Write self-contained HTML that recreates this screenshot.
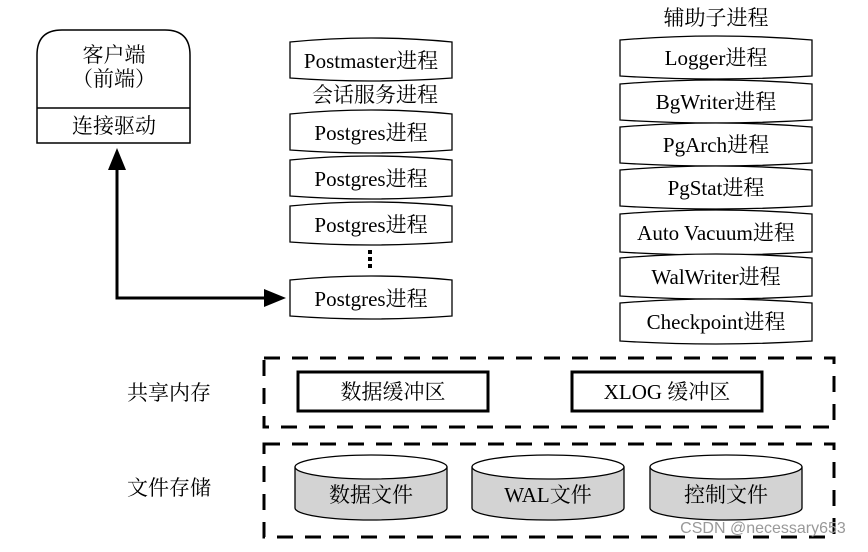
<!DOCTYPE html><html><head><meta charset="utf-8"><style>body{margin:0;background:#fff}</style></head><body>
<svg width="868" height="547" xmlns="http://www.w3.org/2000/svg" font-family="Liberation Serif, Noto Serif CJK SC, serif" font-size="21" text-anchor="middle">
<g fill="#fff" stroke="#000" stroke-width="1.5">
<path d="M37,143 V55 Q37,30 62,30 H165 Q190,30 190,55 V143 Z"/>
<line x1="37" y1="108" x2="190" y2="108"/>
</g>
<text x="114" y="62">客户端</text><text x="114" y="86">（前端）</text><text x="114" y="133">连接驱动</text>
<g stroke="#000" stroke-width="3" fill="none"><path d="M117,160 V298 H272"/></g>
<path d="M117,148 L108,170 L126,170 Z"/><path d="M286,298 L264,289 L264,307 Z"/>
<g fill="#fff" stroke="#000" stroke-width="1.3">
<path d="M290,42 Q371,34 452,42 V78 Q371,84 290,78 Z"/>
<path d="M290,114 Q371,106 452,114 V150 Q371,156 290,150 Z"/>
<path d="M290,160 Q371,152 452,160 V196 Q371,202 290,196 Z"/>
<path d="M290,206 Q371,198 452,206 V242 Q371,248 290,242 Z"/>
<path d="M290,280 Q371,272 452,280 V316 Q371,322 290,316 Z"/>
<path d="M620,40 Q716,32 812,40 V76 Q716,82 620,76 Z"/>
<path d="M620,84 Q716,76 812,84 V120 Q716,126 620,120 Z"/>
<path d="M620,127 Q716,119 812,127 V163 Q716,169 620,163 Z"/>
<path d="M620,170 Q716,162 812,170 V206 Q716,212 620,206 Z"/>
<path d="M620,214 Q716,206 812,214 V252 Q716,258 620,252 Z"/>
<path d="M620,258 Q716,250 812,258 V296 Q716,302 620,296 Z"/>
<path d="M620,303 Q716,295 812,303 V341 Q716,347 620,341 Z"/>
</g>
<text x="371" y="68">Postmaster进程</text><text x="375" y="102">会话服务进程</text>
<text x="371" y="140">Postgres进程</text><text x="371" y="186">Postgres进程</text><text x="371" y="232">Postgres进程</text>
<text x="371" y="306">Postgres进程</text>
<g fill="#000"><rect x="368" y="250" width="4" height="4"/><rect x="368" y="257" width="4" height="4"/><rect x="368" y="264" width="4" height="4"/></g>
<text x="716" y="25">辅助子进程</text>
<text x="716" y="65">Logger进程</text><text x="716" y="109">BgWriter进程</text><text x="716" y="152">PgArch进程</text>
<text x="716" y="195">PgStat进程</text><text x="716" y="240">Auto Vacuum进程</text><text x="716" y="284">WalWriter进程</text><text x="716" y="329">Checkpoint进程</text>
<g fill="none" stroke="#000" stroke-width="3" stroke-dasharray="16,12">
<rect x="264" y="358" width="570" height="69"/><rect x="264" y="444" width="570" height="93"/>
</g>
<text x="169" y="400">共享内存</text><text x="169" y="495">文件存储</text>
<g fill="#fff" stroke="#000" stroke-width="3"><rect x="298" y="372" width="190" height="39"/><rect x="572" y="372" width="190" height="39"/></g>
<text x="393" y="399">数据缓冲区</text><text x="667" y="399">XLOG 缓冲区</text>
<g stroke="#000" stroke-width="1.3">
<path d="M295,467 V508 A76,12 0 0 0 447,508 V467 Z" fill="#d3d3d3"/><ellipse cx="371" cy="467" rx="76" ry="12" fill="#fff"/>
<path d="M472,467 V508 A76,12 0 0 0 624,508 V467 Z" fill="#d3d3d3"/><ellipse cx="548" cy="467" rx="76" ry="12" fill="#fff"/>
<path d="M650,467 V508 A76,12 0 0 0 802,508 V467 Z" fill="#d3d3d3"/><ellipse cx="726" cy="467" rx="76" ry="12" fill="#fff"/>
</g>
<text x="371" y="502">数据文件</text><text x="548" y="502">WAL文件</text><text x="726" y="502">控制文件</text>
<text x="763" y="533" font-family="Liberation Sans, sans-serif" font-size="16" fill="#999">CSDN @necessary653</text>
</svg></body></html>
